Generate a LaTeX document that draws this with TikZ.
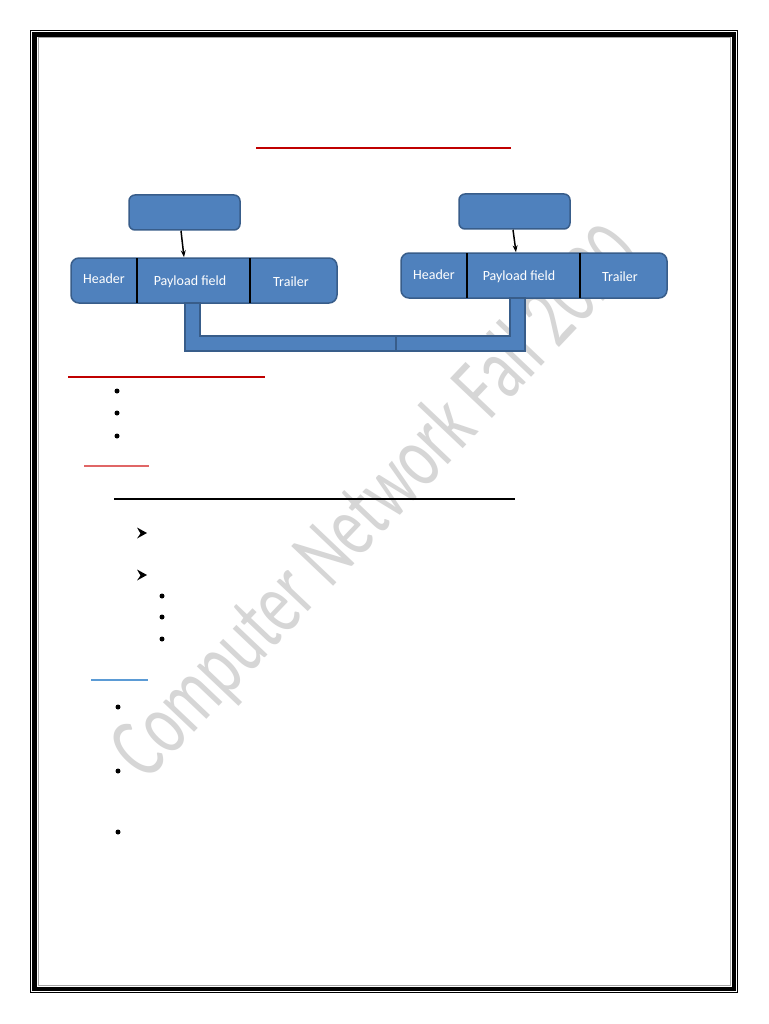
\documentclass[tikz,border=0pt]{standalone}
\usepackage{fontspec}
\setmainfont{Carlito}
\usetikzlibrary{arrows.meta,calc}
\definecolor{boxblue}{HTML}{4F81BD}
\definecolor{boxedge}{HTML}{385D8A}
\definecolor{titlered}{HTML}{C00000}
\definecolor{softred}{HTML}{E06666}
\definecolor{lineblue}{HTML}{5B9BD5}
\definecolor{markgray}{HTML}{D6D6D6}
\begin{document}
\begin{tikzpicture}[x=1pt,y=-1pt,
	block/.style={draw=boxedge,fill=boxblue,line width=1.5pt,inner sep=0pt},
	fieldtext/.style={text=white,inner sep=0pt,anchor=base},
	divider/.style={line width=2pt,black},
	pipe/.style={draw=boxedge,fill=boxblue,line width=1.5pt,line join=miter},
	feed/.style={-{Stealth[length=7pt,width=5pt]},line width=1.5pt,black},
	rule/.style={line width=2pt}]
			\newcommand{\myfontfields}[1]{
				\fontsize{14}{16}\selectfont{#1}
			}\newcommand{\myfontmark}[1]{
				\fontsize{62}{62}\selectfont{#1}
			}\newcommand{\myarrowbullet}[1]{
				\fill[black] ($(#1)+(-4,-5.5)$) -- ($(#1)+(6,0)$) -- ($(#1)+(-4,5.5)$) -- ($(#1)+(-0.5,0.5)$) -- cycle;
			}%Page
			\useasboundingbox (0,0) rectangle (768,1024);
			\fill[white] (0,0) rectangle (768,1024);
			%Watermark behind everything
			\node [text=markgray,rotate=46.5,yscale=1.45,inner sep=0pt] (mark) at (378,504) {\myfontmark{Computer Network Fall 2020}};
			%Page border
			\draw[line width=1pt] (30.5,30.5) rectangle (737.5,992.5);
			\draw[line width=4.5pt] (34.5,34.5) rectangle (734,989);
			\draw[line width=1pt,gray!70] (38,38) rectangle (730.5,985.5);
			%Title rule
			\draw[rule,titlered] (256,148) -- (511,148);
			%Source boxes
			\node [block,rounded corners=6pt,minimum width=111pt,minimum height=35pt] (srcL) at (184.5,212.5) {};
			\node [block,rounded corners=6pt,minimum width=111pt,minimum height=35pt] (srcR) at (514.5,211.5) {};
			%Frame boxes
			\node [block,rounded corners=8pt,minimum width=266pt,minimum height=45pt] (frameL) at (204,280.5) {};
			\node [block,rounded corners=8pt,minimum width=266pt,minimum height=45pt] (frameR) at (534,275.5) {};
			%Pipe between the frames
			\coordinate (pipeJoin) at (396,343.5);
			\draw[pipe] (185,303) -- (200,303) -- (200,336) -- (396,336) -- (396,351) -- (185,351) -- cycle;
			\draw[pipe] (396,336) -- (510,336) -- (510,298) -- (525,298) -- (525,351) -- (396,351) -- cycle;
			%Field dividers
			\draw[divider] (137,258) -- (137,303);
			\draw[divider] (250,258) -- (250,303);
			\draw[divider] (467,253) -- (467,298);
			\draw[divider] (580,253) -- (580,298);
			%Field names
			\node [fieldtext] (headL) at (104,283.5) {\myfontfields{Header}};
			\node [fieldtext] (loadL) at (190,285.5) {\myfontfields{Payload field}};
			\node [fieldtext] (trailL) at (291,286.5) {\myfontfields{Trailer}};
			\node [fieldtext] (headR) at (434,279.5) {\myfontfields{Header}};
			\node [fieldtext] (loadR) at (519,280.5) {\myfontfields{Payload field}};
			\node [fieldtext] (trailR) at (620,281.5) {\myfontfields{Trailer}};
			%Arrows into the payload
			\draw[feed] ([xshift=-3.5pt]srcL.south) -- ([xshift=-20pt]frameL.north);
			\draw[feed] ([xshift=-1.5pt]srcR.south) -- ([xshift=-18pt]frameR.north);
			%First list
			\draw[rule,titlered] (68,377) -- (265,377);
			\foreach \y in {391,413,436} {
				\fill (117,\y) circle (2.5);
			}
			%Second heading
			\draw[rule,softred] (84,466) -- (149,466);
			\draw[line width=1.5pt] (114,499) -- (515,499);
			\coordinate (arrow1) at (141,533);
			\coordinate (arrow2) at (141,575);
			\myarrowbullet{arrow1}
			\myarrowbullet{arrow2}
			\foreach \y in {596,617,639} {
				\fill (162,\y) circle (2.5);
			}
			%Third heading
			\draw[line width=1.5pt,lineblue] (91,680) -- (148,680);
			\foreach \y in {707,771,832} {
				\fill (118,\y) circle (2.5);
			}
\end{tikzpicture}
\end{document}
